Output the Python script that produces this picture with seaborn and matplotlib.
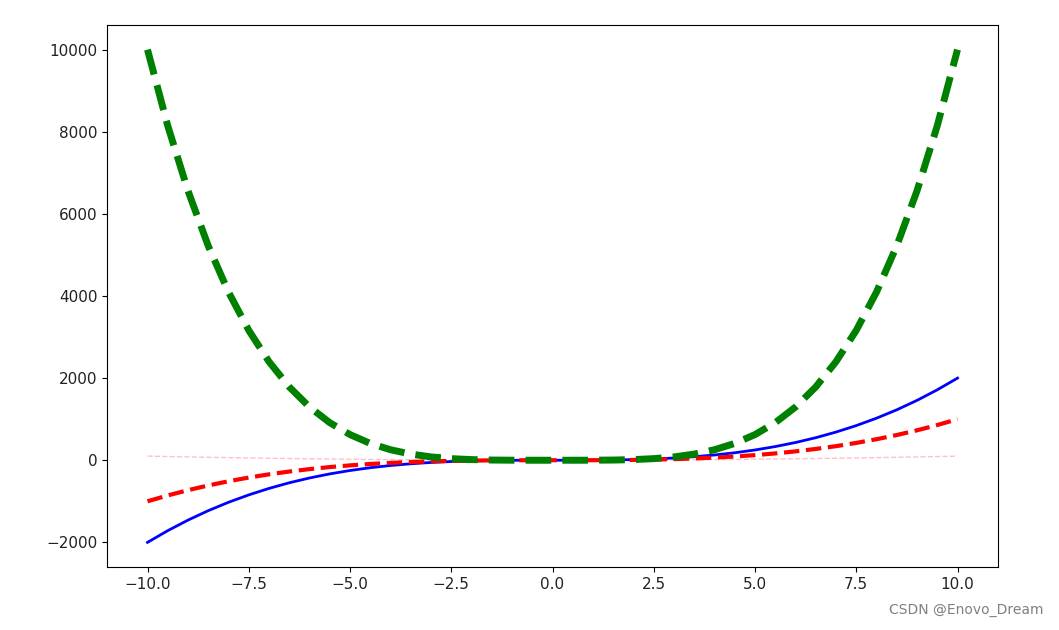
import matplotlib
matplotlib.use("Agg")
import matplotlib.pyplot as plt
import seaborn as sns
import pandas as pd

x = [-10, -9.5, -9, -8.5, -8, -7.5, -7, -6.5, -6, -5.5, -5, -4.5, -4, -3.5, -3, -2.5, -2, -1.5, -1, -0.5, 0,
     0.5, 1, 1.5, 2, 2.5, 3, 3.5, 4, 4.5, 5, 5.5, 6, 6.5, 7, 7.5, 8, 8.5, 9, 9.5, 10]
pink = [100, 90, 81, 72, 64, 56, 49, 42, 36, 30, 25, 20, 16, 12, 9, 6, 4, 2, 1, 0, 0,
        0, 1, 2, 4, 6, 9, 12, 16, 20, 25, 30, 36, 42, 49, 56, 64, 72, 81, 90, 100]
blue = [-2000, -1715, -1458, -1228, -1024, -844, -686, -549, -432, -333, -250, -182, -128, -86, -54, -31, -16, -7, -2, 0, 0,
        0, 2, 7, 16, 31, 54, 86, 128, 182, 250, 333, 432, 549, 686, 844, 1024, 1228, 1458, 1715, 2000]
red = [-1000, -857, -729, -614, -512, -422, -343, -275, -216, -166, -125, -91, -64, -43, -27, -16, -8, -3, -1, 0, 0,
       0, 1, 3, 8, 16, 27, 43, 64, 91, 125, 166, 216, 275, 343, 422, 512, 614, 729, 857, 1000]
green = [10000, 8145, 6561, 5220, 4096, 3164, 2401, 1785, 1296, 915, 625, 410, 256, 150, 81, 39, 16, 5, 1, 0, 0,
         0, 1, 5, 16, 39, 81, 150, 256, 410, 625, 915, 1296, 1785, 2401, 3164, 4096, 5220, 6561, 8145, 10000]

df = pd.DataFrame({"x": x, "pink": pink, "blue": blue, "red": red, "green": green})

fig = plt.figure(figsize=(10.59, 6.3), dpi=100)
ax = fig.add_axes([107/1059, 1-567/630, (998-107)/1059, (567-25)/630])
sns.lineplot(data=df, x="x", y="pink", ax=ax, color="pink", lw=1, linestyle="--")
sns.lineplot(data=df, x="x", y="blue", ax=ax, color="blue", lw=2)
sns.lineplot(data=df, x="x", y="red", ax=ax, color="red", lw=3, linestyle="--")
sns.lineplot(data=df, x="x", y="green", ax=ax, color="green", lw=5, linestyle="--")
ax.set_xlabel("")
ax.set_ylabel("")
ax.set_xlim(-11, 11)
ax.set_ylim(-2600, 10600)
ax.set_xticks([-10, -7.5, -5, -2.5, 0, 2.5, 5, 7.5, 10])
ax.set_yticks([-2000, 0, 2000, 4000, 6000, 8000, 10000])
ax.tick_params(labelsize=11, labelcolor="#222222")
fig.text(0.985, 0.02, "CSDN @Enovo_Dream", ha="right", va="bottom", color="gray", fontsize=10)
fig.savefig("out.png", dpi=100)
